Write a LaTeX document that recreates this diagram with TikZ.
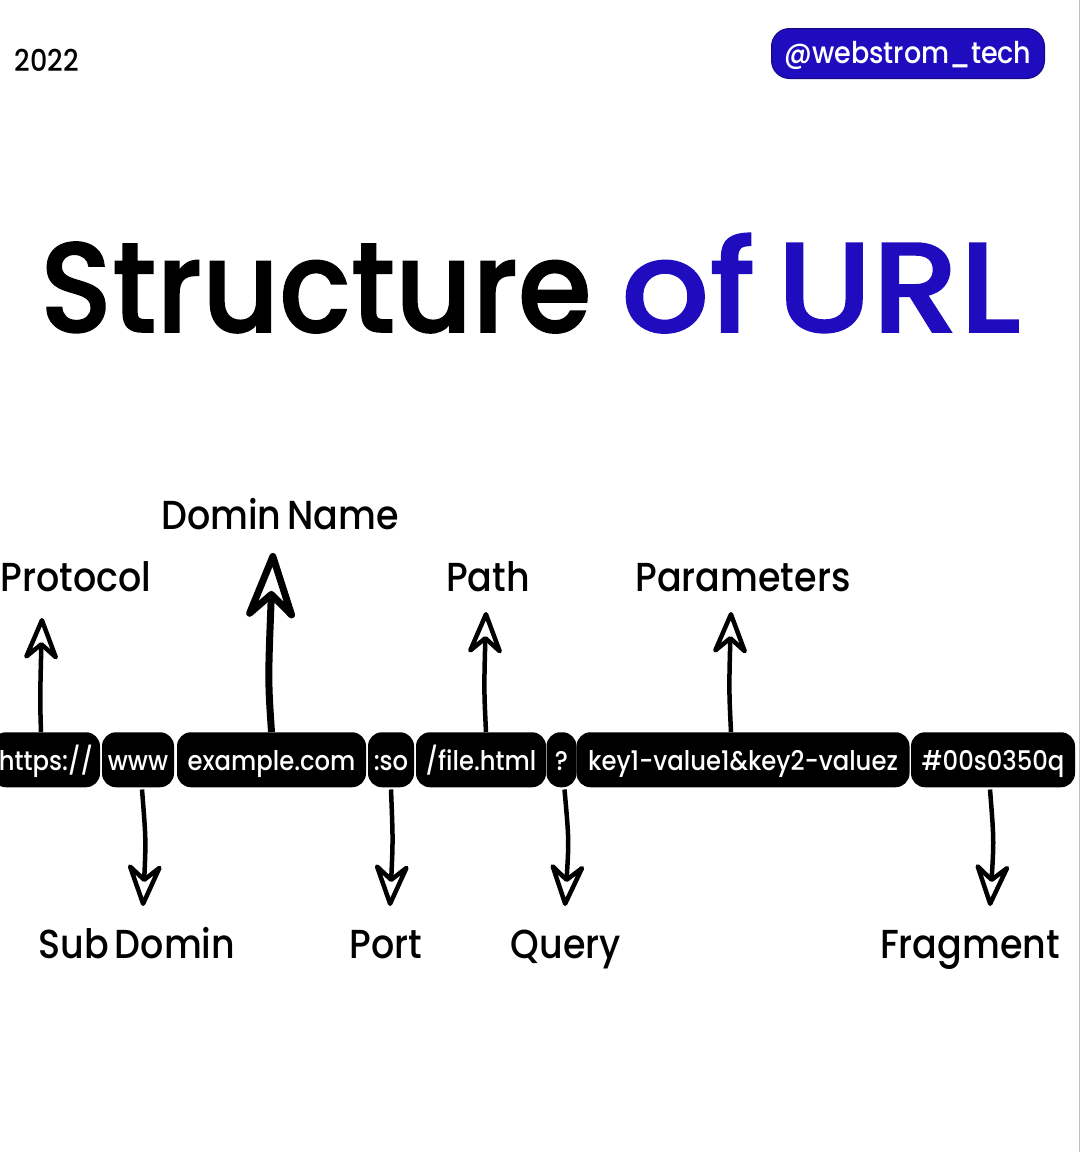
\documentclass[tikz,border=0pt]{standalone}
\usepackage{fontspec}
\setmainfont{Poppins Medium}[FakeStretch=0.9, WordSpace=0.6]
\newfontfamily\titlefont{Poppins Medium}[FakeStretch=0.93, FakeBold=1.2]
\newfontfamily\titleendfont{Poppins Medium}[FakeStretch=1.08, FakeBold=1.2, WordSpace=0.6]
\usetikzlibrary{arrows.meta}
\definecolor{urlblue}{HTML}{1F0CBE}
\tikzset{
  urlbox/.style={fill=black, text=white, rounded corners=14pt, minimum height=55pt, inner sep=0pt, text height=26pt, text depth=4pt, font=\fontsize{27}{27}\selectfont},
  partlabel/.style={inner sep=0pt, anchor=base, font=\fontsize{40.5}{40.5}\selectfont},
  uparrow/.style={line width=4.5pt, -{Stealth[open, round, length=50pt, width=40pt, inset=17pt]}},
  bigarrow/.style={line width=7pt, -{Stealth[open, round, length=80pt, width=58pt, inset=27pt]}}
}
\begin{document}
\begin{tikzpicture}[x=1pt, y=-1pt]
  \useasboundingbox (0,0) rectangle (1080,1152);
  \draw[line width=1pt, black!25] (1079.5,0) -- (1079.5,1152);

  \node[inner sep=0pt, anchor=base, font=\fontsize{30}{30}\selectfont] (year) at (47,71) {2022};
  \node[fill=urlblue, draw=urlblue!70!black, line width=1pt, text=white, rounded corners=18pt, minimum width=273pt, minimum height=50pt, inner sep=0pt, text height=24pt, text depth=5pt, font=\fontsize{30}{30}\selectfont] (handle) at (908,53.5) {@webstrom\_tech};

  \node[inner sep=0pt, anchor=base west, font=\fontsize{128}{128}\titlefont] (title) at (40,332) {Structure};
  \node[inner sep=0pt, anchor=base west, text=urlblue, font=\fontsize{128}{128}\titleendfont] (titleend) at (621,332) {of URL};

  \node[urlbox, minimum width=108pt] (https) at (46,759.75) {https://};
  \node[urlbox, minimum width=72pt] (www) at (138,759.75) {www};
  \node[urlbox, minimum width=189pt] (example) at (271.5,759.75) {example.com};
  \node[urlbox, minimum width=46pt] (port) at (391,759.75) {:so};
  \node[urlbox, minimum width=130pt] (file) at (481,759.75) {/file.html};
  \node[urlbox, minimum width=30pt] (query) at (561.5,759.75) {?};
  \node[urlbox, minimum width=333pt] (params) at (743,759.75) {key1-value1\&key2-valuez};
  \node[urlbox, minimum width=164pt] (fragment) at (993,759.75) {\#00s0350q};

  \node[partlabel] (lprotocol) at (76,591) {Protocol};
  \node[partlabel] (ldomain) at (280,529) {Domin Name};
  \node[partlabel] (lpath) at (488,591) {Path};
  \node[partlabel] (lparams) at (743,591) {Parameters};
  \node[partlabel] (lsub) at (137,958) {Sub Domin};
  \node[partlabel] (lport) at (386,958) {Port};
  \node[partlabel] (lquery) at (566,958) {Query};
  \node[partlabel] (lfragment) at (970,958) {Fragment};

  \coordinate (tprotocol) at (42,618);
  \coordinate (tdomain) at (273,553);
  \coordinate (tpath) at (486,612);
  \coordinate (tparams) at (731,612);
  \coordinate (tsub) at (143,906);
  \coordinate (tport) at (390,906);
  \coordinate (tquery) at (565,906);
  \coordinate (tfragment) at (990,906);

  \draw[uparrow] ([xshift=-5pt]https.north) .. controls (40,700) .. (tprotocol);
  \draw[bigarrow] (example.north) .. controls (268,680) .. (tdomain);
  \draw[uparrow] ([xshift=5pt]file.north) .. controls (484,690) .. (tpath);
  \draw[uparrow] ([xshift=-12pt]params.north) .. controls (729,690) .. (tparams);
  \draw[uparrow] ([xshift=4pt,yshift=-2pt]www.south) .. controls (146,840) .. (tsub);
  \draw[uparrow] ([yshift=-2pt]port.south) .. controls (393,840) .. (tport);
  \draw[uparrow] ([xshift=3pt,yshift=-2pt]query.south) .. controls (569,840) .. (tquery);
  \draw[uparrow] ([xshift=-3pt,yshift=-2pt]fragment.south) .. controls (994,840) .. (tfragment);
\end{tikzpicture}
\end{document}
